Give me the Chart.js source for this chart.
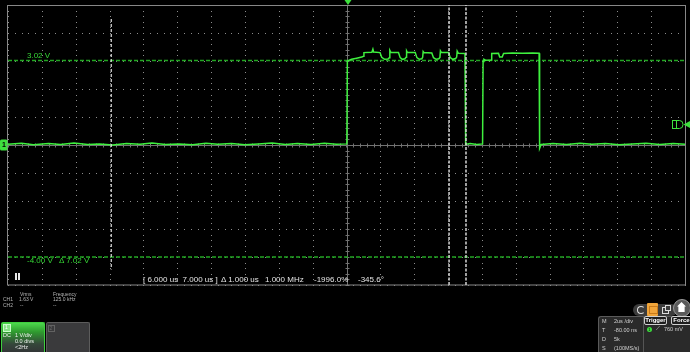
<!DOCTYPE html>
<html>
<head>
<meta charset="utf-8">
<script src="https://cdn.jsdelivr.net/npm/chart.js@4.4.0/dist/chart.umd.min.js"></script>
<style>
html, body { margin: 0; padding: 0; background: #000; }
#wrap { position: relative; width: 690px; height: 352px; overflow: hidden; font-family: "Liberation Sans", Arial, sans-serif; }
#scope { position: absolute; left: 0; top: 0; }
.t { position: absolute; white-space: pre; line-height: 1; }
.lvl { color: #35d835; font-size: 8px; }
.rd { color: #e4e4e4; font-size: 8px; }
.info { color: #b4b4b4; font-size: 5px; }
.ch { color: #f0f0f0; font-size: 5.5px; }
.pn { color: #cfcfcf; font-size: 5.5px; }
.pause { position: absolute; top: 273px; width: 1.5px; height: 7px; background: #e8e8e8; }
.box1 { position: absolute; left: 1px; top: 322px; width: 42px; height: 30px; border: 1px solid #3fcf3f; border-bottom: none; border-radius: 2px 2px 0 0;
  background: linear-gradient(#4cd84c 0%, #2f9a2f 30%, #35473a 70%, #323436 100%); }
.box2 { position: absolute; left: 46px; top: 322px; width: 42px; height: 30px; border: 1px solid #5c5c5c; border-bottom: none; border-radius: 2px 2px 0 0; background: #3a3a3c; }
.sq1 { position: absolute; left: 3px; top: 324px; width: 6px; height: 6px; background: #86e486; border: 1px solid #c8ffc8; }
.sq2 { position: absolute; left: 48px; top: 325px; width: 5px; height: 5px; border: 1px solid #626262; }
.panel { position: absolute; left: 598px; top: 316px; width: 92px; height: 36px; background: #2a2a2a; border-top: 1px solid #5a5a5a; border-left: 1px solid #5a5a5a; border-radius: 3px 0 0 0; }
.divider { position: absolute; left: 643px; top: 316px; width: 1px; height: 36px; background: #555; }
.btn { position: absolute; top: 316px; height: 7px; border: 1px solid #cfcfcf; border-radius: 2px; background: #1e1e1e; color: #fff; font-size: 6px; font-weight: bold; line-height: 7px; text-align: center; }
.pill { position: absolute; left: 633px; top: 304px; width: 44px; height: 12px; background: #3c3c3c; border-radius: 6px; }
.ic-ref { position: absolute; left: 637px; top: 306px; width: 6px; height: 6px; border: 1.5px solid #e0e0e0; border-right-color: transparent; border-radius: 50%; }
.ic-save { position: absolute; left: 647px; top: 303px; width: 11px; height: 13px; background: #f0a43a; border-radius: 1px; }
.ic-save2 { position: absolute; left: 649px; top: 306px; width: 7px; height: 6px; border: 1px solid #c87a1a; }
.ic-share { position: absolute; left: 662px; top: 307px; width: 5px; height: 5px; border: 1px solid #dcdcdc; }
.ic-share2 { position: absolute; left: 665px; top: 305px; width: 4px; height: 4px; border: 1px solid #dcdcdc; background: #3c3c3c; }
.ic-home { position: absolute; left: 673px; top: 299px; width: 16px; height: 16px; border-radius: 50%; background: #5a5a5a; border: 1px solid #9a9a9a; }
.ic-home2 { position: absolute; left: 677px; top: 302px; width: 9px; height: 10px; background: #fff; clip-path: polygon(50% 0, 100% 45%, 85% 45%, 85% 100%, 15% 100%, 15% 45%, 0 45%); }
.dot1 { position: absolute; left: 647px; top: 327px; width: 5px; height: 5px; border-radius: 50%; background: #3ee03e; }
</style>
</head>
<body>
<div id="wrap">
<canvas id="scope" width="690" height="352" style="width:690px;height:352px"></canvas>

<div class="t lvl" style="left:27px;top:51.5px">3.02 V</div>
<div class="t lvl" style="left:27px;top:257px">-4.00 V</div>
<div class="t lvl" style="left:59px;top:257px">Δ 7.02 V</div>
<div class="t" style="left:2px;top:141px;font-size:7px;font-weight:bold;color:#000">1</div>

<div class="pause" style="left:15px"></div>
<div class="pause" style="left:18px"></div>

<div class="t rd" style="left:143px;top:276px">[ 6.000 us  7.000 us ]</div>
<div class="t rd" style="left:221px;top:276px">Δ 1.000 us</div>
<div class="t rd" style="left:265px;top:276px">1.000 MHz</div>
<div class="t rd" style="left:314px;top:276px">-1996.0%</div>
<div class="t rd" style="left:358px;top:276px">-345.6°</div>

<div class="t info" style="left:20px;top:291.6px">Vrms</div>
<div class="t info" style="left:53px;top:291.6px">Frequency</div>
<div class="t info" style="left:3px;top:296.6px">CH1</div>
<div class="t info" style="left:19px;top:296.6px">1.63 V</div>
<div class="t info" style="left:53px;top:296.6px">125.0 kHz</div>
<div class="t info" style="left:3px;top:302.6px">CH2</div>
<div class="t info" style="left:20px;top:302.6px">--</div>
<div class="t info" style="left:53px;top:302.6px">--</div>

<div class="box1"></div>
<div class="sq1"></div>
<div class="t" style="left:5px;top:325px;font-size:5px;color:#fff">1</div>
<div class="t ch" style="left:3px;top:333px">DC</div>
<div class="t ch" style="left:15px;top:333px">1 V/div</div>
<div class="t ch" style="left:15px;top:339px">0.0 divs</div>
<div class="t ch" style="left:15px;top:345px">&lt;2Hz</div>
<div class="box2"></div>
<div class="sq2"></div>
<div class="t" style="left:49.5px;top:326px;font-size:5px;color:#6a6a6a">2</div>

<div class="pill"></div>
<div class="ic-ref"></div>
<div class="ic-save"></div>
<div class="ic-save2"></div>
<div class="ic-share"></div>
<div class="ic-share2"></div>
<div class="ic-home"></div>
<div class="ic-home2"></div>

<div class="panel"></div>
<div class="divider"></div>
<div class="t pn" style="left:602px;top:319px">M</div>
<div class="t pn" style="left:614px;top:319px">2us /div</div>
<div class="t pn" style="left:602px;top:328px">T</div>
<div class="t pn" style="left:614px;top:328px">-80.00 ns</div>
<div class="t pn" style="left:602px;top:337px">D</div>
<div class="t pn" style="left:614px;top:337px">5k</div>
<div class="t pn" style="left:602px;top:346px">S</div>
<div class="t pn" style="left:614px;top:346px">(100MS/s)</div>
<div class="btn" style="left:644px;width:21px">Trigger</div>
<div class="btn" style="left:671px;width:19px">Force</div>
<div class="dot1"></div>
<div class="t" style="left:648.3px;top:327.6px;font-size:4px;color:#000">1</div>
<div class="t pn" style="left:656px;top:326px;color:#ddd">⟋</div>
<div class="t pn" style="left:664px;top:326.5px">760 mV</div>
</div>

<script>
// CH1 trace, time in us, volts
const traceTimeUs = [
  -20, -19.2, -18.5, -17.6, -16.9, -16.1, -15.3, -14.6, -13.8, -13.0,
  -12.2, -11.5, -10.7, -9.9, -9.1, -8.3, -7.6, -6.8, -6.0, -5.2,
  -4.4, -3.6, -2.9, -2.1, -1.3, -0.6, 0.02,
  0.05, 0.3, 0.6, 0.9, 1.0, 1.03, 1.5, 1.56, 1.6, 1.98,
  2.08, 2.25, 2.45, 2.53, 2.56, 2.62, 3.07,
  3.17, 3.3, 3.45, 3.52, 3.55, 3.6, 4.06,
  4.16, 4.3, 4.45, 4.5, 4.53, 4.58, 5.04,
  5.14, 5.3, 5.45, 5.52, 5.55, 5.6, 6.03,
  6.13, 6.28, 6.45, 6.51, 6.54, 6.6, 7.0,
  7.04, 7.3, 7.7, 8.04,
  8.07, 8.12, 8.2, 8.55, 8.58, 8.98, 9.05, 9.2, 9.28, 9.8, 10.4, 11.0, 11.38,
  11.41, 11.5, 12.2, 13.0, 13.8, 14.5, 15.3, 16.1, 16.9, 17.7, 18.5, 19.3, 20
];
const traceVolts = [
  0.03, 0.06, 0.01, 0.05, 0.02, 0.07, 0.02, 0.04, 0.0, 0.05,
  0.03, 0.07, 0.02, 0.04, 0.01, 0.06, 0.03, 0.05, 0.01, 0.04,
  0.07, 0.02, 0.05, 0.02, 0.06, 0.03, 0.04,
  3.0, 3.06, 3.1, 3.14, 3.17, 3.3, 3.31, 3.42, 3.32, 3.3,
  3.13, 3.06, 3.07, 3.12, 3.38, 3.31, 3.3,
  3.12, 3.06, 3.08, 3.13, 3.36, 3.3, 3.3,
  3.12, 3.06, 3.08, 3.13, 3.34, 3.3, 3.29,
  3.12, 3.06, 3.08, 3.13, 3.36, 3.31, 3.3,
  3.12, 3.06, 3.09, 3.14, 3.35, 3.28, 3.27,
  0.02, 0.05, 0.02, 0.04,
  2.98, 3.06, 3.03, 3.04, 3.27, 3.28, 3.14, 3.14, 3.27, 3.29, 3.28, 3.29, 3.28,
  -0.12, 0.02, 0.05, 0.02, 0.06, 0.03, 0.05, 0.01, 0.04, 0.06, 0.02, 0.05, 0.03
];

// cursors and markers
const levelCursorVolts = [3.02, -4.00];
const timeCursorUs = [6.06, 7.06];
const refMarkerUs = -13.9;
const refMarkerVolts = [4.5, -4.45];
const triggerLevelV = 0.76;

const xRange = [-20, 20];
const yRange = [-5, 5];

function points(xs, ys) {
    return xs.map((t, i) => ({ x: t, y: ys[i] }));
}

let datasets = [];
timeCursorUs.forEach(t => {
    datasets.push({
        data: points([t, t], yRange),
        borderColor: '#d4d4d4',
        borderWidth: 1.5,
        borderDash: [3, 1.5]
    });
});
datasets.push({
    data: points([refMarkerUs, refMarkerUs], refMarkerVolts),
    borderColor: '#e0e0e0',
    borderWidth: 1.2,
    borderDash: [3, 2]
});
datasets.push({
    data: points(traceTimeUs, traceVolts),
    borderColor: '#3ef03e',
    borderWidth: 1.5
});
levelCursorVolts.forEach(v => {
    datasets.push({
        data: points(xRange, [v, v]),
        borderColor: '#22a522',
        borderWidth: 1.5,
        borderDash: [4, 2]
    });
});

const scopeDecor = {
    id: 'scopeDecor',
    beforeDatasetsDraw(chart) {
        const { ctx, chartArea: a } = chart;
        const x = chart.scales.x, y = chart.scales.y;
        ctx.save();
        // dotted graticule on the scale ticks, one dot per minor division
        ctx.fillStyle = '#8c8c8c';
        x.ticks.forEach(tk => {
            const px = Math.round(x.getPixelForValue(tk.value));
            for (let v = yRange[0]; v <= yRange[1] + 0.001; v += 0.2) {
                ctx.fillRect(px, Math.round(y.getPixelForValue(v)), 1, 1);
            }
        });
        y.ticks.forEach(tk => {
            const py = Math.round(y.getPixelForValue(tk.value));
            for (let t = xRange[0]; t <= xRange[1] + 0.001; t += 0.4) {
                ctx.fillRect(Math.round(x.getPixelForValue(t)), py, 1, 1);
            }
        });
        ctx.strokeStyle = '#727272';
        ctx.lineWidth = 1;
        const cx = Math.round(x.getPixelForValue(0)) + 0.5;
        const cy = Math.round(y.getPixelForValue(0)) + 0.5;
        ctx.beginPath();
        ctx.moveTo(cx, a.top); ctx.lineTo(cx, a.bottom);
        ctx.moveTo(a.left, cy); ctx.lineTo(a.right, cy);
        // small ticks on the centre axes
        for (let t = xRange[0]; t <= xRange[1] + 0.001; t += 0.4) {
            const px = Math.round(x.getPixelForValue(t)) + 0.5;
            ctx.moveTo(px, cy - 2); ctx.lineTo(px, cy + 2);
        }
        for (let v = yRange[0]; v <= yRange[1] + 0.001; v += 0.2) {
            const py = Math.round(y.getPixelForValue(v)) + 0.5;
            ctx.moveTo(cx - 2, py); ctx.lineTo(cx + 2, py);
        }
        ctx.stroke();
        ctx.strokeStyle = '#888';
        ctx.strokeRect(Math.round(a.left) - 0.5, Math.round(a.top) + 0.5, Math.round(a.right - a.left) + 1, Math.round(a.bottom - a.top) - 0.5);
        ctx.restore();
    },
    afterDatasetsDraw(chart) {
        const { ctx, chartArea: a } = chart;
        const x = chart.scales.x, y = chart.scales.y;
        ctx.save();
        ctx.fillStyle = '#3ee03e';
        ctx.strokeStyle = '#3ee03e';
        // trigger position marker on top
        const tx = x.getPixelForValue(0) + 1.5;
        ctx.beginPath();
        ctx.moveTo(tx - 3.5, 0); ctx.lineTo(tx + 3.5, 0); ctx.lineTo(tx, 5);
        ctx.closePath(); ctx.fill();
        // channel 1 ground marker
        const gy = y.getPixelForValue(0);
        ctx.beginPath();
        ctx.roundRect(0, gy - 5.5, 7.5, 11, 1.5);
        ctx.fill();
        // trigger level marker
        const ty = Math.round(y.getPixelForValue(triggerLevelV)) + 0.5;
        ctx.lineWidth = 1;
        ctx.strokeRect(672.5, ty - 4, 4, 8);
        ctx.beginPath();
        ctx.moveTo(676.5, ty - 4); ctx.lineTo(679.5, ty - 4);
        ctx.quadraticCurveTo(683, ty - 4, 683, ty);
        ctx.quadraticCurveTo(683, ty + 4, 679.5, ty + 4);
        ctx.lineTo(676.5, ty + 4);
        ctx.stroke();
        ctx.beginPath();
        ctx.moveTo(683.5, ty); ctx.lineTo(690, ty - 3.5); ctx.lineTo(690, ty + 3.5);
        ctx.closePath(); ctx.fill();
        ctx.restore();
    }
};

new Chart(document.getElementById('scope'), {
    type: 'line',
    data: { datasets: datasets },
    options: {
        responsive: false,
        animation: false,
        devicePixelRatio: 1,
        layout: { padding: { left: 8, top: 5, right: 5, bottom: 67 } },
        elements: { point: { radius: 0 }, line: { tension: 0 } },
        plugins: { legend: { display: false }, tooltip: { enabled: false } },
        scales: {
            x: {
                type: 'linear', min: xRange[0], max: xRange[1],
                ticks: { display: false, stepSize: 2 },
                grid: { display: false, drawTicks: false },
                border: { display: false }
            },
            y: {
                type: 'linear', min: yRange[0], max: yRange[1],
                ticks: { display: false, stepSize: 1 },
                grid: { display: false, drawTicks: false },
                border: { display: false }
            }
        }
    },
    plugins: [scopeDecor]
});
</script>
</body>
</html>
